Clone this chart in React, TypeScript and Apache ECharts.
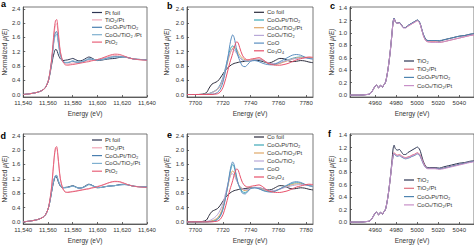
import React, { useEffect, useRef } from "react";
import * as echarts from "echarts";

// ---------- Panel a / d : Pt L3 edge ----------
const A_ENERGY = [11540, 11545, 11550, 11553, 11556, 11558, 11560, 11561, 11562, 11563, 11564, 11565, 11566, 11567, 11568, 11569, 11570, 11572, 11574, 11576, 11578, 11580, 11582, 11585, 11588, 11591, 11593, 11595, 11598, 11600, 11603, 11606, 11610, 11614, 11618, 11622, 11626, 11630, 11635, 11640];
const A_PTFOIL = [0.00, 0.02, 0.05, 0.08, 0.13, 0.20, 0.35, 0.48, 0.65, 0.85, 1.03, 1.17, 1.26, 1.25, 1.15, 1.06, 1.00, 0.95, 0.96, 0.97, 0.99, 1.01, 0.98, 0.94, 0.96, 1.02, 1.05, 1.03, 0.97, 0.95, 0.96, 0.98, 1.00, 1.01, 1.04, 1.05, 1.02, 0.99, 0.98, 0.97];
const A_TIO2PT = [0.00, 0.02, 0.05, 0.08, 0.13, 0.20, 0.35, 0.50, 0.72, 0.98, 1.35, 1.72, 1.95, 1.98, 1.76, 1.44, 1.17, 0.93, 0.86, 0.85, 0.86, 0.88, 0.88, 0.89, 0.91, 0.94, 0.95, 0.96, 0.97, 0.98, 1.00, 1.03, 1.07, 1.09, 1.08, 1.05, 1.01, 0.99, 0.97, 0.96];
const A_COPTTIO2 = [0.00, 0.02, 0.05, 0.08, 0.13, 0.20, 0.35, 0.49, 0.70, 0.95, 1.28, 1.58, 1.74, 1.76, 1.58, 1.32, 1.11, 0.93, 0.89, 0.89, 0.91, 0.93, 0.91, 0.90, 0.92, 0.96, 0.99, 0.99, 0.97, 0.97, 0.98, 1.00, 1.04, 1.06, 1.06, 1.05, 1.02, 0.99, 0.98, 0.97];
const A_COTIO2PT = [0.00, 0.02, 0.05, 0.08, 0.13, 0.20, 0.35, 0.49, 0.69, 0.93, 1.24, 1.52, 1.66, 1.68, 1.52, 1.28, 1.09, 0.93, 0.90, 0.90, 0.92, 0.95, 0.92, 0.91, 0.93, 0.98, 1.01, 1.00, 0.97, 0.96, 0.97, 0.99, 1.03, 1.05, 1.05, 1.05, 1.02, 0.99, 0.98, 0.97];
const A_PTO2 = [0.00, 0.02, 0.05, 0.08, 0.13, 0.20, 0.35, 0.50, 0.72, 1.00, 1.40, 1.80, 2.06, 2.10, 1.86, 1.50, 1.20, 0.92, 0.83, 0.82, 0.83, 0.84, 0.85, 0.87, 0.89, 0.91, 0.92, 0.94, 0.96, 0.98, 1.01, 1.05, 1.10, 1.13, 1.12, 1.07, 1.02, 0.99, 0.97, 0.96];
const D_TIO2PT = [0.00, 0.02, 0.05, 0.08, 0.13, 0.20, 0.35, 0.50, 0.72, 0.99, 1.38, 1.77, 2.02, 2.05, 1.82, 1.48, 1.19, 0.93, 0.84, 0.83, 0.84, 0.85, 0.86, 0.88, 0.90, 0.92, 0.93, 0.95, 0.97, 0.99, 1.02, 1.05, 1.10, 1.12, 1.11, 1.07, 1.02, 0.99, 0.97, 0.96];
const D_COPTTIO2 = [0.00, 0.02, 0.05, 0.08, 0.13, 0.20, 0.35, 0.48, 0.66, 0.86, 1.05, 1.20, 1.28, 1.29, 1.18, 1.08, 1.01, 0.95, 0.95, 0.96, 0.98, 1.00, 0.98, 0.94, 0.95, 1.00, 1.04, 1.03, 0.98, 0.96, 0.96, 0.98, 1.00, 1.01, 1.03, 1.04, 1.02, 0.99, 0.98, 0.97];
const D_COTIO2PT = [0.00, 0.02, 0.05, 0.08, 0.13, 0.20, 0.35, 0.48, 0.66, 0.87, 1.06, 1.21, 1.29, 1.30, 1.19, 1.09, 1.02, 0.96, 0.96, 0.96, 0.98, 1.00, 0.97, 0.94, 0.96, 1.01, 1.04, 1.02, 0.97, 0.96, 0.96, 0.98, 1.00, 1.01, 1.03, 1.04, 1.02, 0.99, 0.98, 0.97];

// ---------- Panel b / e : Co K edge ----------
const B_ENERGY = [7694, 7700, 7705, 7708, 7710, 7712, 7714, 7716, 7718, 7720, 7722, 7724, 7725, 7726, 7727, 7728, 7729, 7730, 7731, 7732, 7734, 7736, 7738, 7740, 7743, 7746, 7749, 7752, 7755, 7758, 7761, 7764, 7767, 7770, 7773, 7776, 7779, 7782, 7785];
const B_COFOIL = [0, 0, 0.01, 0.05, 0.18, 0.29, 0.33, 0.37, 0.46, 0.58, 0.69, 0.77, 0.8, 0.83, 0.85, 0.87, 0.88, 0.89, 0.9, 0.91, 0.92, 0.93, 0.94, 0.95, 0.96, 0.95, 0.92, 0.89, 0.9, 0.96, 1.01, 1.0, 0.95, 0.92, 0.93, 0.95, 0.94, 0.91, 0.89];
const B_COPTTIO2 = [0, 0, 0, 0.01, 0.03, 0.06, 0.1, 0.16, 0.28, 0.48, 0.78, 1.1, 1.24, 1.33, 1.36, 1.33, 1.26, 1.18, 1.1, 1.04, 0.97, 0.94, 0.93, 0.95, 0.97, 0.98, 0.94, 0.88, 0.85, 0.85, 0.88, 0.93, 0.97, 1.01, 1.04, 1.05, 1.04, 1.02, 1.01];
const B_COTIO2PT = [0, 0, 0, 0.01, 0.02, 0.05, 0.09, 0.14, 0.24, 0.42, 0.7, 1.0, 1.13, 1.23, 1.3, 1.33, 1.31, 1.26, 1.18, 1.11, 1.02, 0.97, 0.95, 0.96, 0.98, 0.99, 0.95, 0.89, 0.86, 0.85, 0.87, 0.91, 0.95, 0.99, 1.02, 1.04, 1.04, 1.03, 1.02];
const B_COTIO2 = [0, 0, 0, 0.01, 0.02, 0.05, 0.09, 0.15, 0.26, 0.45, 0.74, 1.04, 1.16, 1.24, 1.27, 1.25, 1.2, 1.14, 1.08, 1.03, 0.97, 0.94, 0.94, 0.95, 0.97, 0.98, 0.95, 0.9, 0.87, 0.87, 0.89, 0.93, 0.96, 0.99, 1.01, 1.02, 1.02, 1.01, 1.0];
const B_COO = [0, 0, 0, 0, 0, 0.01, 0.02, 0.06, 0.15, 0.35, 0.7, 1.15, 1.4, 1.58, 1.67, 1.6, 1.42, 1.22, 1.06, 0.96, 0.8, 0.78, 0.85, 0.93, 0.95, 0.92, 0.87, 0.84, 0.83, 0.86, 0.92, 0.98, 1.04, 1.1, 1.12, 1.1, 1.05, 1.01, 0.99];
const B_CO3O4 = [0, 0, 0, 0, 0, 0, 0.01, 0.02, 0.07, 0.2, 0.45, 0.75, 0.9, 1.02, 1.15, 1.3, 1.42, 1.48, 1.44, 1.32, 1.1, 1.0, 0.97, 0.99, 1.01, 1.03, 0.97, 0.88, 0.84, 0.82, 0.82, 0.84, 0.87, 0.92, 0.97, 1.0, 1.03, 1.05, 1.04];
const E_COPTTIO2 = [0, 0, 0, 0, 0.01, 0.02, 0.04, 0.08, 0.18, 0.38, 0.72, 1.12, 1.35, 1.52, 1.6, 1.54, 1.38, 1.2, 1.06, 0.97, 0.84, 0.82, 0.87, 0.93, 0.95, 0.93, 0.88, 0.85, 0.84, 0.87, 0.92, 0.97, 1.02, 1.07, 1.09, 1.08, 1.04, 1.01, 0.99];
const E_COTIO2PT = [0, 0, 0, 0, 0.01, 0.03, 0.06, 0.11, 0.22, 0.42, 0.74, 1.08, 1.25, 1.37, 1.42, 1.38, 1.28, 1.16, 1.06, 0.99, 0.9, 0.87, 0.89, 0.94, 0.96, 0.95, 0.9, 0.86, 0.85, 0.87, 0.91, 0.96, 1.0, 1.04, 1.06, 1.06, 1.04, 1.02, 1.0];
const E_COTIO2 = [0, 0, 0, 0.01, 0.03, 0.07, 0.12, 0.2, 0.33, 0.52, 0.82, 1.12, 1.25, 1.33, 1.34, 1.3, 1.22, 1.13, 1.06, 1.0, 0.93, 0.9, 0.9, 0.93, 0.96, 0.96, 0.92, 0.88, 0.87, 0.88, 0.91, 0.95, 0.98, 1.01, 1.03, 1.04, 1.03, 1.01, 1.0];

// ---------- Panel c / f : Ti K edge ----------
const C_ENERGY = [4936, 4945, 4952, 4955, 4957, 4959, 4961, 4962, 4963, 4964, 4965, 4966, 4967, 4968, 4969, 4970, 4971, 4972, 4973, 4974, 4975, 4976, 4977, 4978, 4979, 4981, 4983, 4985, 4987, 4989, 4991, 4993, 4995, 4997, 4999, 5000, 5001, 5002, 5003, 5004, 5005, 5006, 5008, 5010, 5013, 5017, 5021, 5025, 5030, 5035, 5040, 5045, 5050, 5054];
const C_TIO2 = [0.00, 0.00, 0.01, 0.02, 0.06, 0.12, 0.16, 0.15, 0.12, 0.13, 0.16, 0.14, 0.13, 0.16, 0.18, 0.22, 0.30, 0.40, 0.52, 0.66, 0.82, 1.00, 1.18, 1.24, 1.19, 1.16, 1.17, 1.13, 1.09, 1.09, 1.12, 1.14, 1.16, 1.18, 1.20, 1.21, 1.20, 1.18, 1.14, 1.08, 1.02, 0.97, 0.90, 0.88, 0.88, 0.88, 0.87, 0.89, 0.91, 0.93, 0.95, 0.96, 0.98, 0.99];
const C_TIO2PT = [0.00, 0.00, 0.01, 0.02, 0.06, 0.12, 0.16, 0.15, 0.12, 0.13, 0.16, 0.14, 0.13, 0.16, 0.18, 0.22, 0.30, 0.40, 0.52, 0.66, 0.82, 1.00, 1.17, 1.23, 1.19, 1.16, 1.17, 1.13, 1.09, 1.09, 1.11, 1.13, 1.15, 1.17, 1.19, 1.20, 1.19, 1.17, 1.13, 1.07, 1.01, 0.95, 0.88, 0.86, 0.86, 0.86, 0.85, 0.86, 0.88, 0.90, 0.92, 0.94, 0.96, 0.97];
const C_COPTTIO2 = [0.00, 0.00, 0.01, 0.02, 0.06, 0.12, 0.16, 0.15, 0.12, 0.13, 0.16, 0.14, 0.13, 0.16, 0.18, 0.22, 0.30, 0.40, 0.52, 0.66, 0.82, 1.00, 1.18, 1.24, 1.19, 1.16, 1.17, 1.13, 1.09, 1.09, 1.12, 1.14, 1.16, 1.18, 1.20, 1.21, 1.20, 1.18, 1.14, 1.08, 1.02, 0.97, 0.90, 0.88, 0.88, 0.88, 0.88, 0.89, 0.91, 0.93, 0.95, 0.96, 0.98, 0.99];
const C_COTIO2PT = [0.00, 0.00, 0.01, 0.02, 0.06, 0.12, 0.16, 0.15, 0.12, 0.13, 0.16, 0.14, 0.13, 0.16, 0.18, 0.22, 0.30, 0.40, 0.52, 0.66, 0.82, 1.00, 1.17, 1.23, 1.18, 1.16, 1.16, 1.12, 1.08, 1.08, 1.11, 1.13, 1.15, 1.17, 1.19, 1.20, 1.19, 1.17, 1.13, 1.07, 1.01, 0.95, 0.88, 0.86, 0.85, 0.85, 0.85, 0.86, 0.88, 0.90, 0.92, 0.94, 0.96, 0.97];
const F_TIO2PT = [0.00, 0.00, 0.01, 0.02, 0.06, 0.12, 0.16, 0.15, 0.12, 0.13, 0.16, 0.14, 0.13, 0.16, 0.18, 0.22, 0.30, 0.40, 0.52, 0.66, 0.80, 0.96, 1.07, 1.12, 1.10, 1.08, 1.09, 1.07, 1.05, 1.04, 1.05, 1.06, 1.08, 1.09, 1.11, 1.12, 1.11, 1.10, 1.07, 1.03, 0.99, 0.95, 0.89, 0.87, 0.87, 0.87, 0.86, 0.87, 0.89, 0.91, 0.93, 0.95, 0.97, 0.98];
const F_COPTTIO2 = [0.00, 0.00, 0.01, 0.02, 0.06, 0.12, 0.16, 0.15, 0.12, 0.13, 0.16, 0.14, 0.13, 0.16, 0.18, 0.22, 0.30, 0.40, 0.52, 0.66, 0.80, 0.95, 1.05, 1.10, 1.08, 1.06, 1.07, 1.05, 1.03, 1.02, 1.03, 1.04, 1.06, 1.07, 1.09, 1.10, 1.09, 1.08, 1.05, 1.01, 0.97, 0.93, 0.88, 0.87, 0.87, 0.87, 0.86, 0.87, 0.89, 0.91, 0.93, 0.95, 0.97, 0.98];
const F_COTIO2PT = [0.00, 0.00, 0.01, 0.02, 0.06, 0.12, 0.16, 0.15, 0.12, 0.13, 0.16, 0.14, 0.13, 0.16, 0.18, 0.22, 0.30, 0.40, 0.52, 0.66, 0.80, 0.95, 1.06, 1.11, 1.09, 1.07, 1.08, 1.06, 1.04, 1.03, 1.04, 1.05, 1.07, 1.08, 1.10, 1.11, 1.10, 1.09, 1.06, 1.02, 0.98, 0.94, 0.88, 0.86, 0.86, 0.86, 0.85, 0.86, 0.88, 0.90, 0.92, 0.94, 0.96, 0.97];

// ---------- Tick labels ----------
const A_XTICKS = [11540, 11560, 11580, 11600, 11620, 11640];
const B_XTICKS = [7700, 7720, 7740, 7760, 7780];
const C_XTICKS = [4960, 4980, 5000, 5020, 5040];
const AB_YTICKS = [0, 0.4, 0.8, 1.2, 1.6, 2.0, 2.4];
const C_YTICKS = [0, 0.2, 0.4, 0.6, 0.8, 1.0, 1.2, 1.4];

const FONT = "'Liberation Sans', Arial, sans-serif";

type S = { label: string; color: string; data: number[] };

const PANELS: {
  key: string;
  grid: { left: number; top: number; width: number; height: number };
  x: number[];
  xr: [number, number];
  xt: number[];
  yr: [number, number];
  yt: number[];
  comma: boolean;
  nameGap: number;
  legend: { left: number; top: number; gap: number };
  letter: { x: number; y: number };
  series: S[];
}[] = [
  {
    key: "a", grid: { left: 23, top: 7, width: 124, height: 90 }, x: A_ENERGY, xr: [11540, 11640], xt: A_XTICKS,
    yr: [-0.07, 2.45], yt: AB_YTICKS, comma: true, nameGap: 9, legend: { left: 92, top: 9.5, gap: 1.4 }, letter: { x: 1, y: 8.5 },
    series: [
      { label: "Pt foil", color: "#2d3553", data: A_PTFOIL },
      { label: "TiO₂/Pt", color: "#f0a8b8", data: A_TIO2PT },
      { label: "CoOₓPt/TiO₂", color: "#4a7fb0", data: A_COPTTIO2 },
      { label: "CoOₓ/TiO₂ /Pt", color: "#7fb0d0", data: A_COTIO2PT },
      { label: "PtO₂", color: "#e8627a", data: A_PTO2 },
    ],
  },
  {
    key: "b", grid: { left: 187, top: 7, width: 126, height: 90 }, x: B_ENERGY, xr: [7694, 7785], xt: B_XTICKS,
    yr: [-0.07, 2.45], yt: AB_YTICKS, comma: false, nameGap: 17, legend: { left: 254, top: 9.3, gap: 1.7 }, letter: { x: 167, y: 10.5 },
    series: [
      { label: "Co foil", color: "#2b2b3b", data: B_COFOIL },
      { label: "CoOₓPt/TiO₂", color: "#3fa8b8", data: B_COPTTIO2 },
      { label: "CoOₓ/TiO₂/Pt", color: "#e0a868", data: B_COTIO2PT },
      { label: "CoOₓ/TiO₂", color: "#b8a8d8", data: B_COTIO2 },
      { label: "CoO", color: "#5b8ec0", data: B_COO },
      { label: "Co₃O₄", color: "#e8506a", data: B_CO3O4 },
    ],
  },
  {
    key: "c", grid: { left: 350, top: 7, width: 124, height: 90 }, x: C_ENERGY, xr: [4936, 5054], xt: C_XTICKS,
    yr: [-0.03, 1.42], yt: C_YTICKS, comma: false, nameGap: 14, legend: { left: 404, top: 58, gap: 2.2 }, letter: { x: 330, y: 10 },
    series: [
      { label: "TiO₂", color: "#2d3553", data: C_TIO2 },
      { label: "TiO₂/Pt", color: "#e0707e", data: C_TIO2PT },
      { label: "CoOₓPt/TiO₂", color: "#4f84b0", data: C_COPTTIO2 },
      { label: "CoOₓ/TiO₂/Pt", color: "#c890c8", data: C_COTIO2PT },
    ],
  },
  {
    key: "d", grid: { left: 23, top: 134, width: 124, height: 90 }, x: A_ENERGY, xr: [11540, 11640], xt: A_XTICKS,
    yr: [-0.06, 2.45], yt: AB_YTICKS, comma: true, nameGap: 9, legend: { left: 92, top: 137, gap: 1.8 }, letter: { x: 0.5, y: 140 },
    series: [
      { label: "Pt foil", color: "#2d3553", data: A_PTFOIL },
      { label: "TiO₂/Pt", color: "#f0a8b8", data: D_TIO2PT },
      { label: "CoOₓPt/TiO₂", color: "#4a7fb0", data: D_COPTTIO2 },
      { label: "CoOₓ/TiO₂/Pt", color: "#7fb0d0", data: D_COTIO2PT },
      { label: "PtO₂", color: "#e8627a", data: A_PTO2 },
    ],
  },
  {
    key: "e", grid: { left: 187, top: 134, width: 126, height: 90 }, x: B_ENERGY, xr: [7694, 7785], xt: B_XTICKS,
    yr: [-0.06, 2.45], yt: AB_YTICKS, comma: false, nameGap: 17, legend: { left: 254, top: 134, gap: 2 }, letter: { x: 167, y: 139 },
    series: [
      { label: "Co foil", color: "#2b2b3b", data: B_COFOIL },
      { label: "CoOₓPt/TiO₂", color: "#3fa8b8", data: E_COPTTIO2 },
      { label: "CoOₓ/TiO₂/Pt", color: "#e0a868", data: E_COTIO2PT },
      { label: "CoOₓ/TiO₂", color: "#b8a8d8", data: E_COTIO2 },
      { label: "CoO", color: "#5b8ec0", data: B_COO },
      { label: "Co₃O₄", color: "#e8506a", data: B_CO3O4 },
    ],
  },
  {
    key: "f", grid: { left: 350, top: 134, width: 124, height: 90 }, x: C_ENERGY, xr: [4936, 5054], xt: C_XTICKS,
    yr: [-0.03, 1.42], yt: C_YTICKS, comma: false, nameGap: 14, legend: { left: 404, top: 177, gap: 2.3 }, letter: { x: 328, y: 138.5 },
    series: [
      { label: "TiO₂", color: "#2d3553", data: C_TIO2 },
      { label: "TiO₂/Pt", color: "#e0707e", data: F_TIO2PT },
      { label: "CoOₓPt/TiO₂", color: "#4f84b0", data: F_COPTTIO2 },
      { label: "CoOₓ/TiO₂/Pt", color: "#c890c8", data: F_COTIO2PT },
    ],
  },
];

function buildOption() {
  const grid: any[] = [];
  const xAxis: any[] = [];
  const yAxis: any[] = [];
  const series: any[] = [];
  const legend: any[] = [];
  const graphic: any[] = [];
  const axisLineStyle = { color: "#444", width: 0.8 };

  PANELS.forEach((p, i) => {
    grid.push({ ...p.grid, show: true, borderColor: "#555", borderWidth: 0.8, backgroundColor: "transparent" });
    xAxis.push({
      type: "value", gridIndex: i, min: p.xr[0], max: p.xr[1],
      axisLine: { show: true, onZero: false, lineStyle: axisLineStyle },
      axisTick: { show: true, inside: true, length: 2, customValues: p.xt, lineStyle: axisLineStyle },
      axisLabel: {
        customValues: p.xt, fontSize: 6, color: "#333", margin: 3, fontFamily: FONT,
        formatter: (v: number) => (p.comma ? v.toLocaleString("en-US") : String(v)),
      },
      splitLine: { show: false },
      name: "Energy (eV)", nameLocation: "middle", nameGap: 13,
      nameTextStyle: { fontSize: 6.5, color: "#333", fontFamily: FONT },
    });
    yAxis.push({
      type: "value", gridIndex: i, min: p.yr[0], max: p.yr[1],
      axisLine: { show: true, onZero: false, lineStyle: axisLineStyle },
      axisTick: { show: true, inside: true, length: 2, customValues: p.yt, lineStyle: axisLineStyle },
      axisLabel: {
        customValues: p.yt, fontSize: 6, color: "#333", margin: 3, fontFamily: FONT,
        formatter: (v: number) => v.toFixed(1),
      },
      splitLine: { show: false },
      name: "Normalized {i|μ(E)}", nameLocation: "middle", nameGap: p.nameGap,
      nameTextStyle: {
        fontSize: 6.5, color: "#333", fontFamily: FONT,
        rich: { i: { fontSize: 6.5, fontStyle: "italic", color: "#333", fontFamily: FONT } },
      },
    });
    const names: string[] = [];
    p.series.forEach((s) => {
      const name = `${p.key}-${s.label}`;
      names.push(name);
      series.push({
        type: "line", name, xAxisIndex: i, yAxisIndex: i, symbol: "none", smooth: 0.3,
        color: s.color, lineStyle: { color: s.color, width: 1 },
        data: p.x.map((xv, k) => [xv, s.data[k]]),
      });
    });
    legend.push({
      data: names, orient: "vertical", left: p.legend.left, top: p.legend.top, padding: 0,
      icon: "rect", itemWidth: 10, itemHeight: 1.2, itemGap: p.legend.gap,
      formatter: (n: string) => n.slice(2),
      textStyle: { fontSize: 6, color: "#333", fontFamily: FONT, lineHeight: 6, padding: [0, 0, 0, -2] },
    });
    graphic.push({
      type: "text", x: p.letter.x, y: p.letter.y,
      style: { text: p.key, font: `bold 9px ${FONT}`, fill: "#000", textVerticalAlign: "bottom", verticalAlign: "bottom" },
    });
  });

  return { animation: false, backgroundColor: "#fff", textStyle: { fontFamily: FONT }, grid, xAxis, yAxis, series, legend, graphic };
}

export default function App() {
  const ref = useRef<HTMLDivElement>(null);
  useEffect(() => {
    if (!ref.current) return;
    const chart = echarts.init(ref.current, undefined, { renderer: "svg" });
    chart.setOption(buildOption() as any);
    return () => chart.dispose();
  }, []);
  return <div ref={ref} style={{ width: 474, height: 246, position: "absolute", left: 0, top: 0 }} />;
}
